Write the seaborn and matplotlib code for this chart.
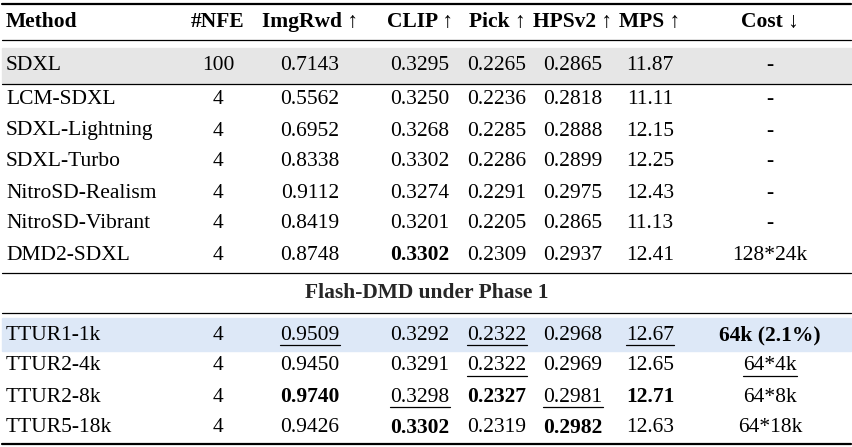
import matplotlib
matplotlib.use("Agg")
import matplotlib.pyplot as plt
import seaborn as sns

sns.set_theme(style="white")
plt.rcParams['font.family'] = ['Liberation Serif', 'DejaVu Serif']
plt.rcParams['font.serif'] = ['Liberation Serif', 'DejaVu Serif']

headers = ["Method", "#NFE", "ImgRwd ↑", "CLIP ↑", "Pick ↑", "HPSv2 ↑", "MPS ↑", "Cost ↓"]
base = [["SDXL", "100", "0.7143", "0.3295", "0.2265", "0.2865", "11.87", "-"]]
group1 = [
    ["LCM-SDXL", "4", "0.5562", "0.3250", "0.2236", "0.2818", "11.11", "-"],
    ["SDXL-Lightning", "4", "0.6952", "0.3268", "0.2285", "0.2888", "12.15", "-"],
    ["SDXL-Turbo", "4", "0.8338", "0.3302", "0.2286", "0.2899", "12.25", "-"],
    ["NitroSD-Realism", "4", "0.9112", "0.3274", "0.2291", "0.2975", "12.43", "-"],
    ["NitroSD-Vibrant", "4", "0.8419", "0.3201", "0.2205", "0.2865", "11.13", "-"],
    ["DMD2-SDXL", "4", "0.8748", "0.3302", "0.2309", "0.2937", "12.41", "128*24k"],
]
section = "Flash-DMD under Phase 1"
group2 = [
    ["TTUR1-1k", "4", "0.9509", "0.3292", "0.2322", "0.2968", "12.67", "64k (2.1%)"],
    ["TTUR2-4k", "4", "0.9450", "0.3291", "0.2322", "0.2969", "12.65", "64*4k"],
    ["TTUR2-8k", "4", "0.9740", "0.3298", "0.2327", "0.2981", "12.71", "64*8k"],
    ["TTUR5-18k", "4", "0.9426", "0.3302", "0.2319", "0.2982", "12.63", "64*18k"],
]
bold_cells = {(0, 5, 3), (1, 0, 7), (1, 2, 2), (1, 2, 4), (1, 2, 6), (1, 3, 3), (1, 3, 5)}
under_cells = {(1, 0, 2), (1, 0, 4), (1, 0, 6), (1, 1, 4), (1, 1, 7), (1, 2, 3), (1, 2, 5)}

W, H = 853, 447
fig = plt.figure(figsize=(W / 100, H / 100), dpi=100)
ax = fig.add_axes([0, 0, 1, 1])
ax.set_xlim(0, W)
ax.set_ylim(H, 0)
ax.axis("off")

xs = [6, 218, 310, 420, 497, 573, 650, 770]
fs = 15.5
FAM = ['Liberation Serif', 'DejaVu Serif']

def put(x, y, s, col, weight="normal"):
    ha = "left" if col == 0 else "center"
    return ax.text(x, y, s, ha=ha, va="center", fontsize=fs, fontweight=weight,
                   color="black", family=FAM)

ax.add_patch(plt.Rectangle((2, 48), W - 4, 35, color="#e6e6e6", zorder=0))
ax.add_patch(plt.Rectangle((2, 318), W - 4, 33, color="#dde8f7", zorder=0))

for c, h in enumerate(headers):
    put(xs[c], 22, h, c, "bold")
for c, v in enumerate(base[0]):
    put(xs[c], 65, v, c)
for r, row in enumerate(group1):
    y = 100 + r * 31
    for c, v in enumerate(row):
        put(xs[c], y, v, c, "bold" if (0, r, c) in bold_cells else "normal")
ax.text(W / 2, 293, section, ha="center", va="center", fontsize=fs, fontweight="bold", family=FAM)
unders = []
for r, row in enumerate(group2):
    y = 335 + r * 31
    for c, v in enumerate(row):
        t = put(xs[c], y, v, c, "bold" if (1, r, c) in bold_cells else "normal")
        if (1, r, c) in under_cells:
            unders.append((t, y))

for y, lw in [(4, 1.6), (40, 0.9), (84, 0.9), (273, 0.9), (313, 0.9), (444, 1.6)]:
    ax.plot([2, W - 2], [y, y], color="black", lw=lw)

fig.canvas.draw()
r = fig.canvas.get_renderer()
inv = ax.transData.inverted()
for t, y in unders:
    bb = t.get_window_extent(r)
    (x0, _), (x1, _) = inv.transform([(bb.x0, bb.y0), (bb.x1, bb.y0)])
    ax.plot([x0, x1], [y + 10, y + 10], color="black", lw=0.9)

fig.savefig("out.png", dpi=100)
